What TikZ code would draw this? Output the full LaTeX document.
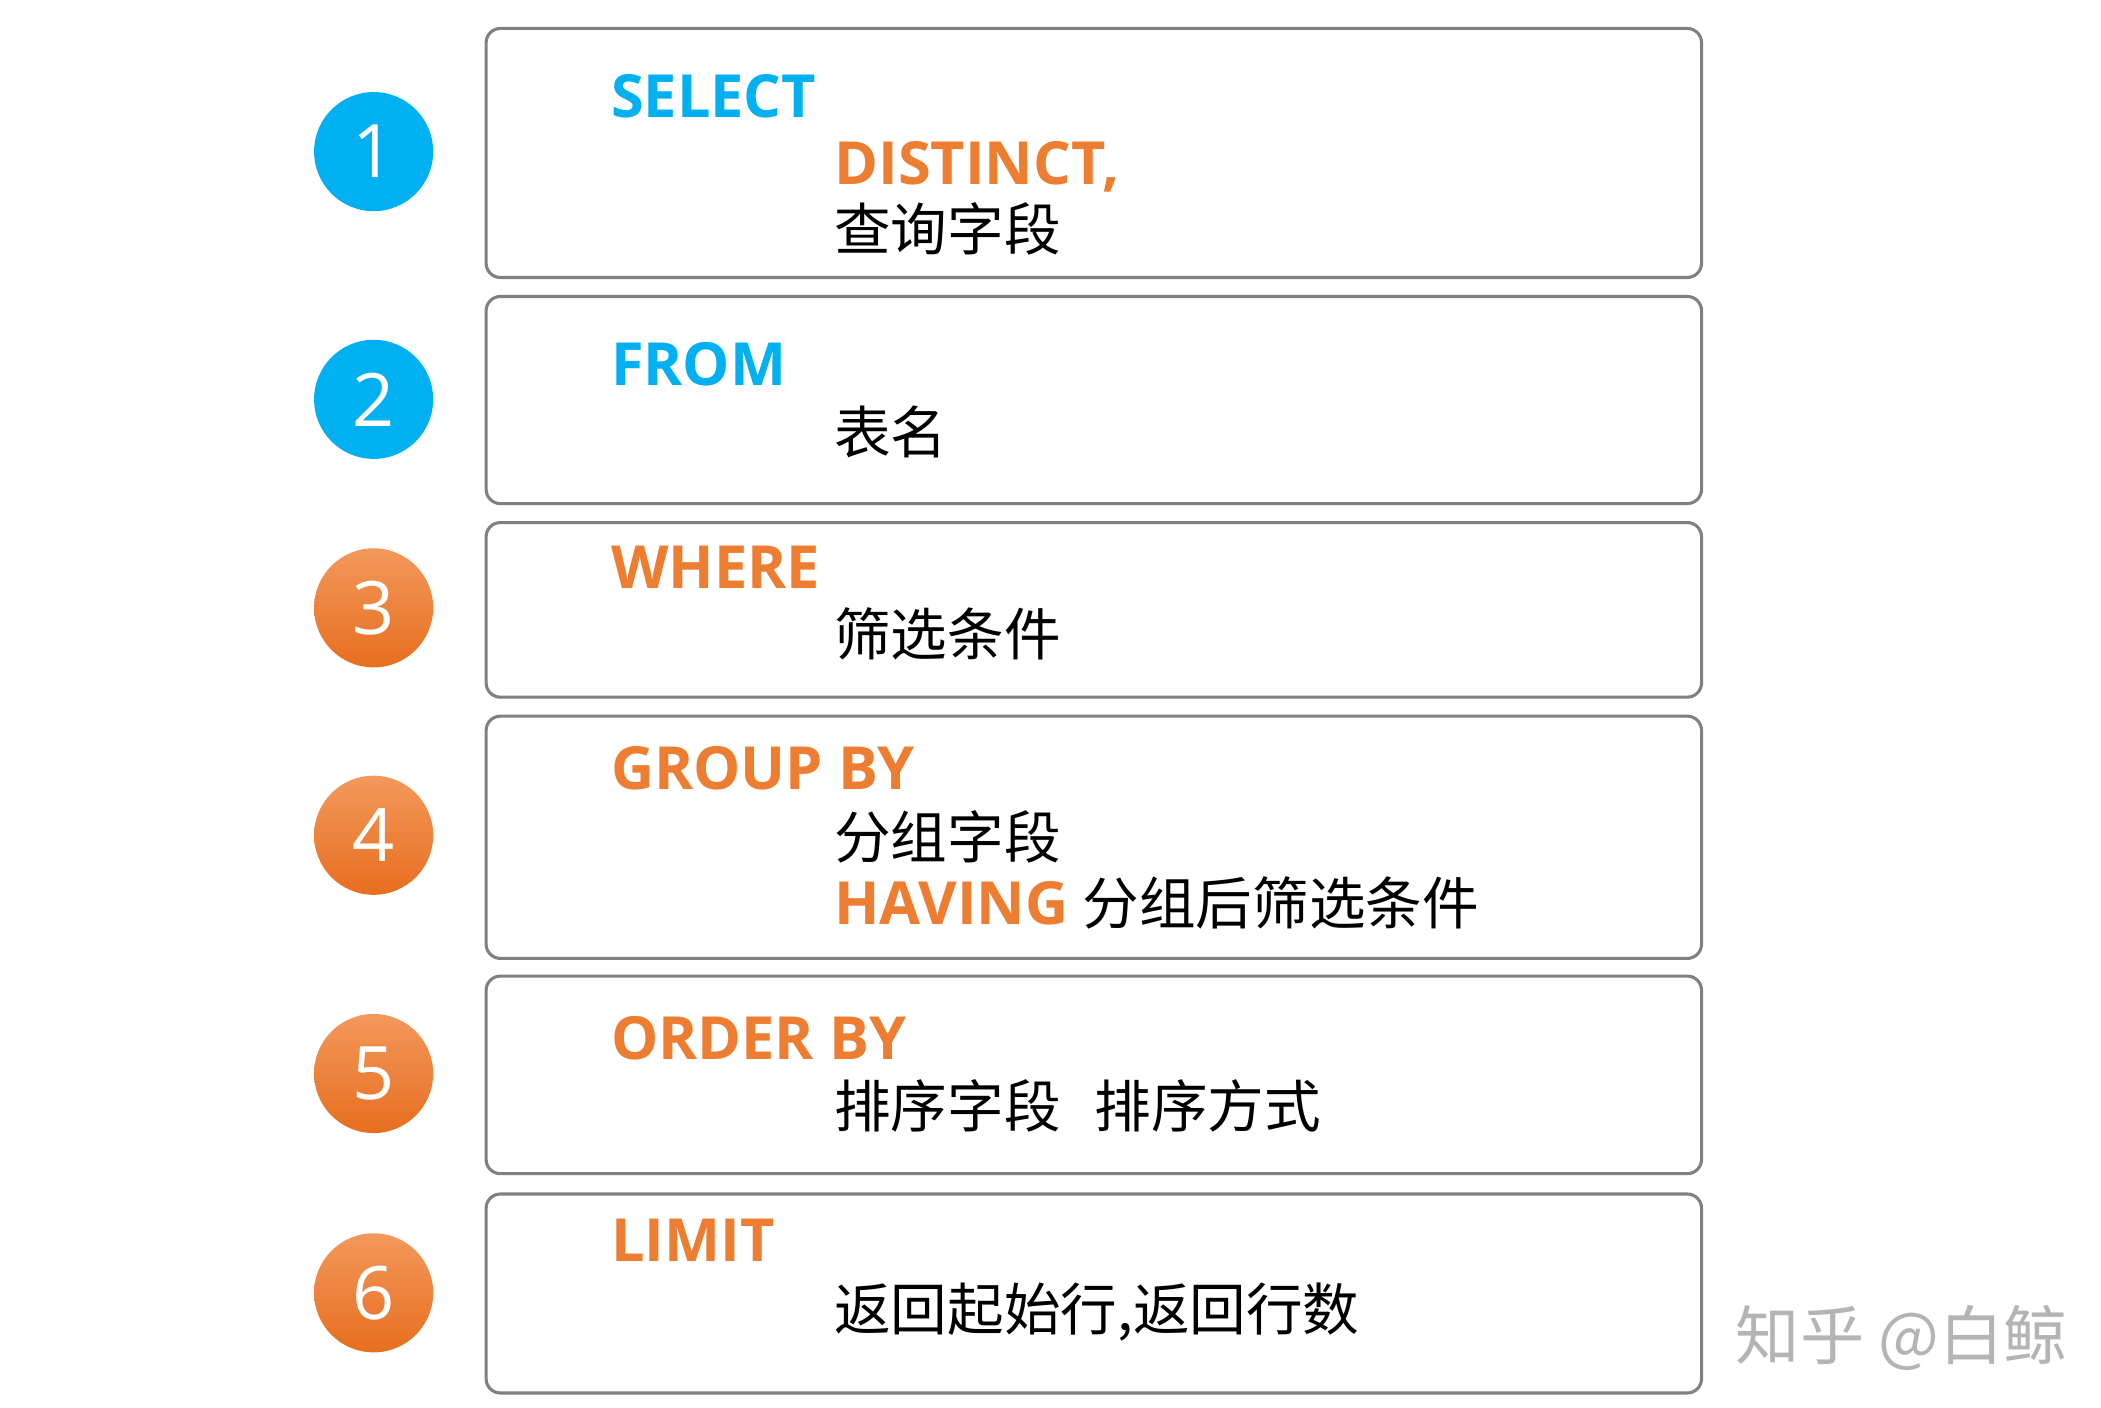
\documentclass[tikz,border=0pt]{standalone}
\usepackage{fontspec}
\setmainfont{Noto Sans CJK SC}
\newfontfamily\kwfont{Open Sans}
\usepackage{xcolor}
\usepackage{tikz}
\usetikzlibrary{shapes,calc}
\definecolor{sqlblue}{RGB}{0,176,240}
\definecolor{sqlorange}{RGB}{237,125,49}
\definecolor{orangetop}{RGB}{243,152,92}
\definecolor{orangebot}{RGB}{231,110,30}
\definecolor{boxgray}{RGB}{128,128,128}
\definecolor{markgray}{RGB}{180,180,180}
\tikzstyle{stepbox} = [rectangle, draw=boxgray, line width=1.3pt, rounded corners=6pt, minimum width=17.96cm, inner sep=0pt]
\tikzstyle{bluenum} = [circle, fill=sqlblue, text=white, minimum size=1.76cm, inner sep=0pt, font=\kwfont\fontsize{31}{31}\selectfont]
\tikzstyle{orangenum} = [circle, top color=orangetop, bottom color=orangebot, text=white, minimum size=1.76cm, inner sep=0pt, font=\kwfont\fontsize{31}{31}\selectfont]
\tikzstyle{kw} = [anchor=base west, inner sep=0pt, font=\kwfont\bfseries\fontsize{25}{25}\selectfont]
\tikzstyle{cn} = [anchor=base west, inner sep=0pt, font=\fontsize{23.8}{23.8}\selectfont]

\begin{document}
\begin{tikzpicture}[x=0.02cm, y=-0.02cm]
\useasboundingbox (0,0) rectangle (1552,1040);

% boxes
\node [stepbox, minimum height=3.68cm] (box1) at (808,113) {};
\node [stepbox, minimum height=3.06cm] (box2) at (808,295.5) {};
\node [stepbox, minimum height=2.58cm] (box3) at (808,450.5) {};
\node [stepbox, minimum height=3.58cm] (box4) at (808,618.5) {};
\node [stepbox, minimum height=2.92cm] (box5) at (808,794) {};
\node [stepbox, minimum height=2.94cm] (box6) at (808,955.5) {};

% numbers
\node [bluenum] (num1) at (276,112) {1};
\node [bluenum] (num2) at (276,295) {2};
\node [orangenum] (num3) at (276,449) {3};
\node [orangenum] (num4) at (276,617) {4};
\node [orangenum] (num5) at (276,793) {5};
\node [orangenum] (num6) at (276,955) {6};

% step 1
\node [kw, text=sqlblue] (select) at (451,87) {SELECT};
\node [kw, text=sqlorange] (distinct) at (616,136) {DISTINCT,};
\node [cn] (fields) at (616,185) {查询字段};

% step 2
\node [kw, text=sqlblue] (from) at (451,285) {FROM};
\node [cn] (table) at (616,335) {表名};

% step 3
\node [kw, text=sqlorange] (where) at (451,435) {WHERE};
\node [cn] (cond) at (616,484) {筛选条件};

% step 4
\node [kw, text=sqlorange] (groupby) at (451,583) {GROUP BY};
\node [cn] (gfields) at (616,634) {分组字段};
\node [kw, text=sqlorange] (having) at (616,683) {HAVING};
\node [cn] (hcond) at ($(having.base east)+(10,0)$) {分组后筛选条件};

% step 5
\node [kw, text=sqlorange] (orderby) at (451,783) {ORDER BY};
\node [cn] (ofields) at (616,833) {排序字段\hspace{0.6em}排序方式};

% step 6
\node [kw, text=sqlorange] (limit) at (451,932) {LIMIT};
\node [cn] (rows) at (616,983) {返回起始行,返回行数};

% watermark
\node [cn, text=markgray, font=\fontsize{27}{27}\selectfont] (mark) at (1282,1004) {知乎 @白鲸};

\end{tikzpicture}
\end{document}
